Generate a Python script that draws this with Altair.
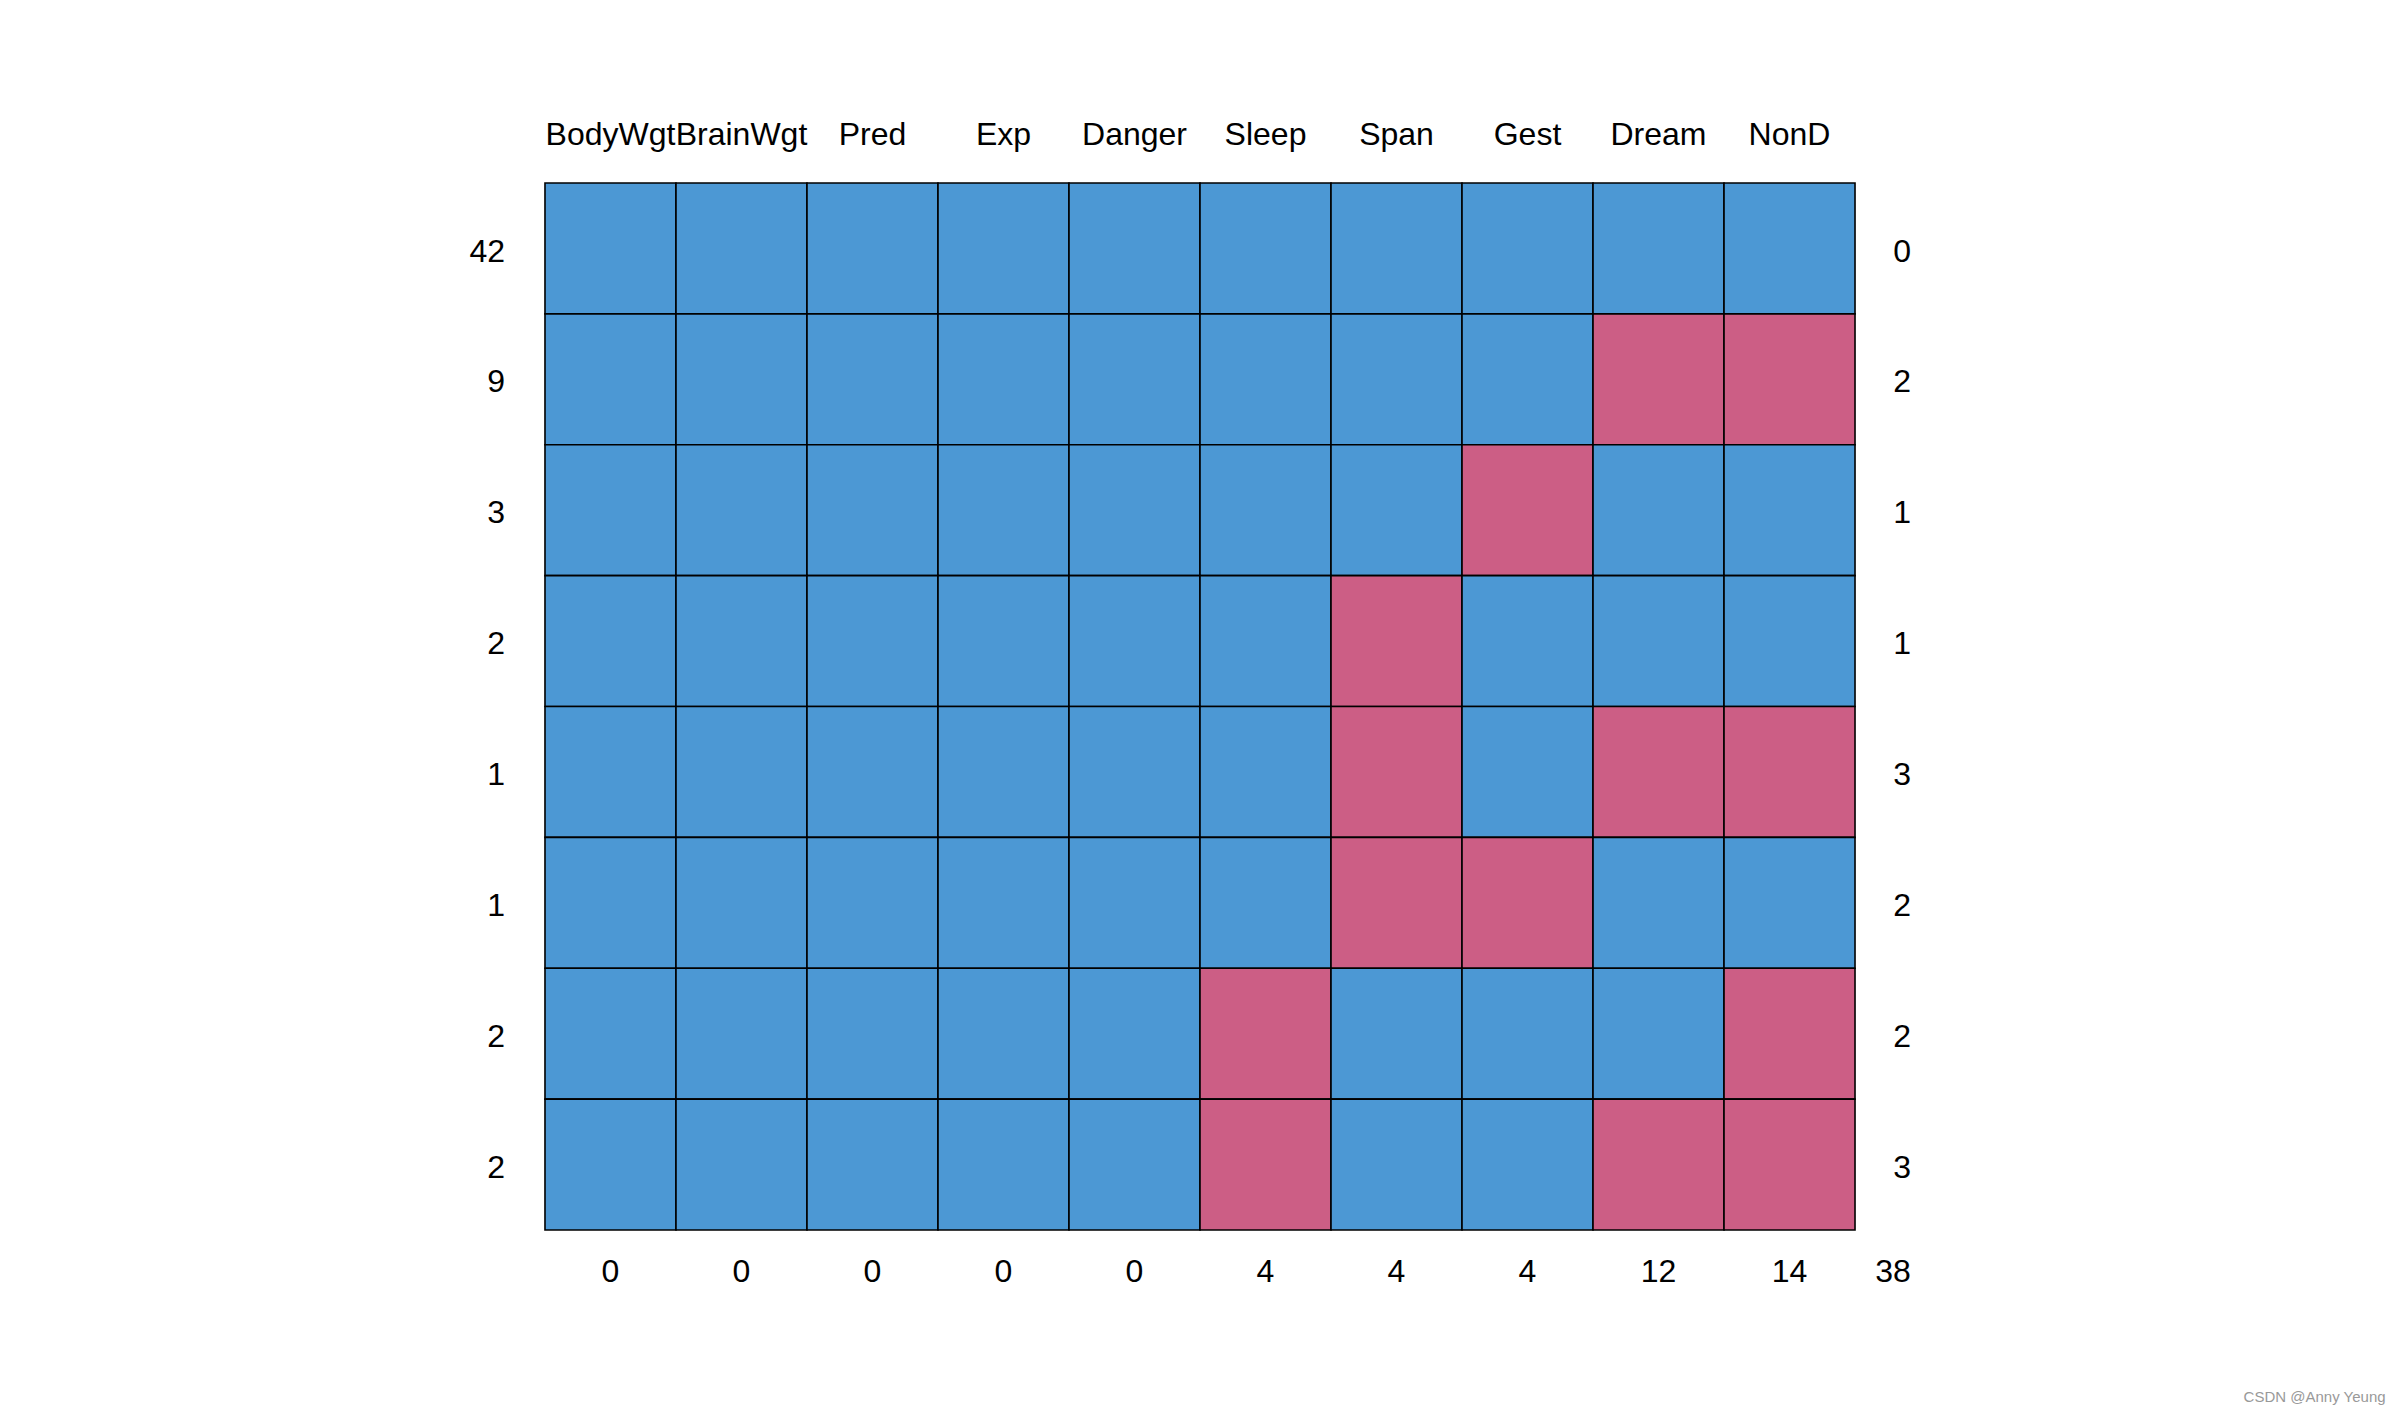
import altair as alt
import pandas as pd

variables = ["BodyWgt", "BrainWgt", "Pred", "Exp", "Danger", "Sleep", "Span", "Gest", "Dream", "NonD"]
col_missing = [0, 0, 0, 0, 0, 4, 4, 4, 12, 14]
total_missing = 38
pattern_counts = [42, 9, 3, 2, 1, 1, 2, 2]
row_missing = [0, 2, 1, 1, 3, 2, 2, 3]
# 1 = observed, 0 = missing
patterns = [
    [1, 1, 1, 1, 1, 1, 1, 1, 1, 1],
    [1, 1, 1, 1, 1, 1, 1, 1, 0, 0],
    [1, 1, 1, 1, 1, 1, 1, 0, 1, 1],
    [1, 1, 1, 1, 1, 1, 0, 1, 1, 1],
    [1, 1, 1, 1, 1, 1, 0, 1, 0, 0],
    [1, 1, 1, 1, 1, 1, 0, 0, 1, 1],
    [1, 1, 1, 1, 1, 0, 1, 1, 1, 0],
    [1, 1, 1, 1, 1, 0, 1, 1, 0, 0],
]
watermark = "CSDN @Anny Yeung"

FONT = "Liberation Sans"
FS = 32
ncol, nrow = len(variables), len(pattern_counts)

cells = pd.DataFrame([
    {"c": j, "c2": j + 1, "r": i, "r2": i + 1, "obs": patterns[i][j]}
    for i in range(nrow) for j in range(ncol)
])
top = pd.DataFrame({"x": [j + 0.5 for j in range(ncol)], "y": [-0.29] * ncol, "t": variables})
bottom = pd.DataFrame({"x": [j + 0.5 for j in range(ncol)] + [10.29], "y": [8.397] * (ncol + 1),
                       "t": [str(v) for v in col_missing] + [str(total_missing)]})
left = pd.DataFrame({"x": [-0.305] * nrow, "y": [i + 0.6 for i in range(nrow)], "t": [str(v) for v in pattern_counts]})
right = pd.DataFrame({"x": [10.36] * nrow, "y": [i + 0.6 for i in range(nrow)], "t": [str(v) for v in row_missing]})
wm = pd.DataFrame({"x": [14.05], "y": [9.314], "t": [watermark]})

xs = alt.Scale(domain=[-4.099, 14.099], nice=False, zero=False)
ys = alt.Scale(domain=[-1.337, 9.345], nice=False, zero=False, reverse=True)

rects = alt.Chart(cells).mark_rect(stroke="black", strokeWidth=1.6).encode(
    x=alt.X("c:Q", scale=xs, axis=None),
    x2="c2:Q",
    y=alt.Y("r:Q", scale=ys, axis=None),
    y2="r2:Q",
    color=alt.Color("obs:N", scale=alt.Scale(domain=[1, 0], range=["#4C98D4", "#CC5E85"]), legend=None),
)

def txt(df, align="center", size=FS, color="black"):
    return alt.Chart(df).mark_text(font=FONT, fontSize=size, align=align, baseline="alphabetic", color=color).encode(
        x=alt.X("x:Q", scale=xs, axis=None),
        y=alt.Y("y:Q", scale=ys, axis=None),
        text="t:N",
    )

chart = alt.layer(
    rects,
    txt(top),
    txt(bottom),
    txt(left, align="right"),
    txt(right),
    txt(wm, align="right", size=15, color="#999999"),
).properties(
    width=2384, height=1398, padding=0, autosize=alt.AutoSizeParams(type="none")
).configure_view(stroke=None)

chart.save("out.html", embed_options={"renderer": "svg", "actions": False})
